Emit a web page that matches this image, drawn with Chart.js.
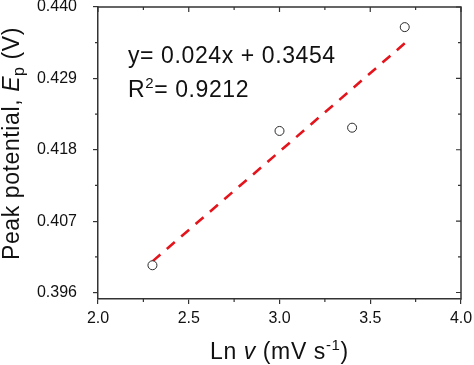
<!DOCTYPE html>
<html>
<head>
<meta charset="utf-8">
<script src="https://cdn.jsdelivr.net/npm/chart.js@4.4.1/dist/chart.umd.min.js"></script>
<style>
  html, body { margin: 0; padding: 0; background: #fff; }
  #wrap { width: 474px; height: 365px; position: relative; }
</style>
</head>
<body>
<div id="wrap"><canvas id="c" width="474" height="365"></canvas></div>
<script>
// ---- data ----
const lnV = [2.30, 3.00, 3.40, 3.69];            // Ln v (mV s-1)
const peakE = [0.4002, 0.4209, 0.4214, 0.4369];  // Peak potential Ep (V)
const fitX = [2.30, 3.69];                       // fitted line ends
const fitY = [0.4008, 0.4344];
const xTicks = [2.0, 2.5, 3.0, 3.5, 4.0];
const yTicks = [0.396, 0.407, 0.418, 0.429, 0.440];
const xMinor = [2.25, 2.75, 3.25, 3.75];
const yMinor = [0.4015, 0.4125, 0.4235, 0.4345];
const fitEquation = "y= 0.024x + 0.3454";
const fitR2 = "0.9212";

const FONT = "Arial, 'Liberation Sans', sans-serif";
const AXIS = '#333333';
const TEXT = '#111111';

function drawRuns(ctx, x, y, runs, spacing) {
  let cx = x;
  for (const r of runs) {
    ctx.font = (r.italic ? 'italic ' : '') + r.size + 'px ' + FONT;
    try { ctx.letterSpacing = spacing + 'px'; } catch (e) {}
    ctx.fillText(r.text, cx, y + (r.dy || 0));
    cx += ctx.measureText(r.text).width;
  }
}

const decor = {
  id: 'decor',
  afterDraw(chart) {
    const ctx = chart.ctx;
    const a = chart.chartArea;
    const xs = chart.scales.x, ys = chart.scales.y;
    ctx.save();
    ctx.strokeStyle = AXIS;
    ctx.lineWidth = 1.5;
    // top and right frame lines
    ctx.beginPath();
    ctx.moveTo(a.left - 0.75, a.top); ctx.lineTo(a.right, a.top); ctx.lineTo(a.right, a.bottom + 0.75);
    ctx.stroke();
    ctx.lineWidth = 1.2;
    ctx.beginPath();
    // mirrored major ticks (inward) on top and right
    for (const v of xTicks) { const px = xs.getPixelForValue(v); ctx.moveTo(px, a.top); ctx.lineTo(px, a.top + 5); }
    for (const v of yTicks) { const py = ys.getPixelForValue(v); ctx.moveTo(a.right, py); ctx.lineTo(a.right - 5, py); }
    // minor ticks: outward bottom/left, inward top/right
    for (const v of xMinor) {
      const px = xs.getPixelForValue(v);
      ctx.moveTo(px, a.bottom); ctx.lineTo(px, a.bottom + 3);
      ctx.moveTo(px, a.top); ctx.lineTo(px, a.top + 3);
    }
    for (const v of yMinor) {
      const py = ys.getPixelForValue(v);
      ctx.moveTo(a.left, py); ctx.lineTo(a.left - 3, py);
      ctx.moveTo(a.right, py); ctx.lineTo(a.right - 3, py);
    }
    ctx.stroke();

    ctx.fillStyle = TEXT;
    ctx.textAlign = 'left';
    ctx.textBaseline = 'alphabetic';
    // annotation
    drawRuns(ctx, 128, 63, [{text: fitEquation, size: 23}], 0.6);
    drawRuns(ctx, 128, 97, [
      {text: 'R', size: 23},
      {text: '2', size: 15, dy: -9},
      {text: '= ' + fitR2, size: 23}
    ], 0.6);
    // x axis title
    drawRuns(ctx, 210, 359, [
      {text: 'Ln ', size: 23},
      {text: 'v', size: 23, italic: true},
      {text: ' (mV s', size: 23},
      {text: '-1', size: 15, dy: -9},
      {text: ')', size: 23}
    ], 0.6);
    // y axis title (rotated)
    ctx.save();
    ctx.translate(19, 260);
    ctx.rotate(-Math.PI / 2);
    drawRuns(ctx, 0, 0, [
      {text: 'Peak potential, ', size: 23},
      {text: 'E', size: 23, italic: true},
      {text: 'p', size: 16, dy: 5},
      {text: ' (V)', size: 23}
    ], 0.6);
    ctx.restore();
    ctx.restore();
  }
};

new Chart(document.getElementById('c'), {
  type: 'scatter',
  data: {
    datasets: [
      {
        label: 'fit',
        data: fitX.map((x, i) => ({x: x, y: fitY[i]})),
        showLine: true,
        borderColor: '#e3141b',
        borderWidth: 2.6,
        borderDash: [10.5, 8.5],
        pointRadius: 0,
        order: 2
      },
      {
        label: 'Ep',
        data: lnV.map((x, i) => ({x: x, y: peakE[i]})),
        pointRadius: 4.5,
        pointBorderWidth: 1,
        pointBorderColor: '#2a2a2a',
        pointBackgroundColor: '#ffffff',
        order: 1
      }
    ]
  },
  options: {
    responsive: false,
    animation: false,
    layout: { padding: { left: 0, right: 13, top: 7, bottom: 0 } },
    plugins: { legend: { display: false }, tooltip: { enabled: false } },
    scales: {
      x: {
        type: 'linear', min: 2.0, max: 4.0,
        afterFit(s) { s.height = 66; s.paddingLeft = 0; s.paddingRight = 0; },
        afterBuildTicks(s) { s.ticks = xTicks.map(v => ({value: v})); },
        ticks: { callback: v => Number(v).toFixed(1), font: { family: FONT, size: 16 }, color: TEXT, padding: 5, maxRotation: 0 },
        grid: { drawOnChartArea: false, drawTicks: true, tickLength: 5, color: AXIS, lineWidth: 1.2 },
        border: { color: AXIS, width: 1.5 }
      },
      y: {
        type: 'linear', min: 0.395, max: 0.440,
        afterFit(s) { s.width = 98; s.paddingTop = 0; s.paddingBottom = 0; },
        afterBuildTicks(s) { s.ticks = yTicks.map(v => ({value: v})); },
        ticks: { callback: v => Number(v).toFixed(3), font: { family: FONT, size: 16 }, color: TEXT, padding: 16 },
        grid: { drawOnChartArea: false, drawTicks: true, tickLength: 5, color: AXIS, lineWidth: 1.2 },
        border: { color: AXIS, width: 1.5 }
      }
    }
  },
  plugins: [decor]
});
</script>
</body>
</html>
